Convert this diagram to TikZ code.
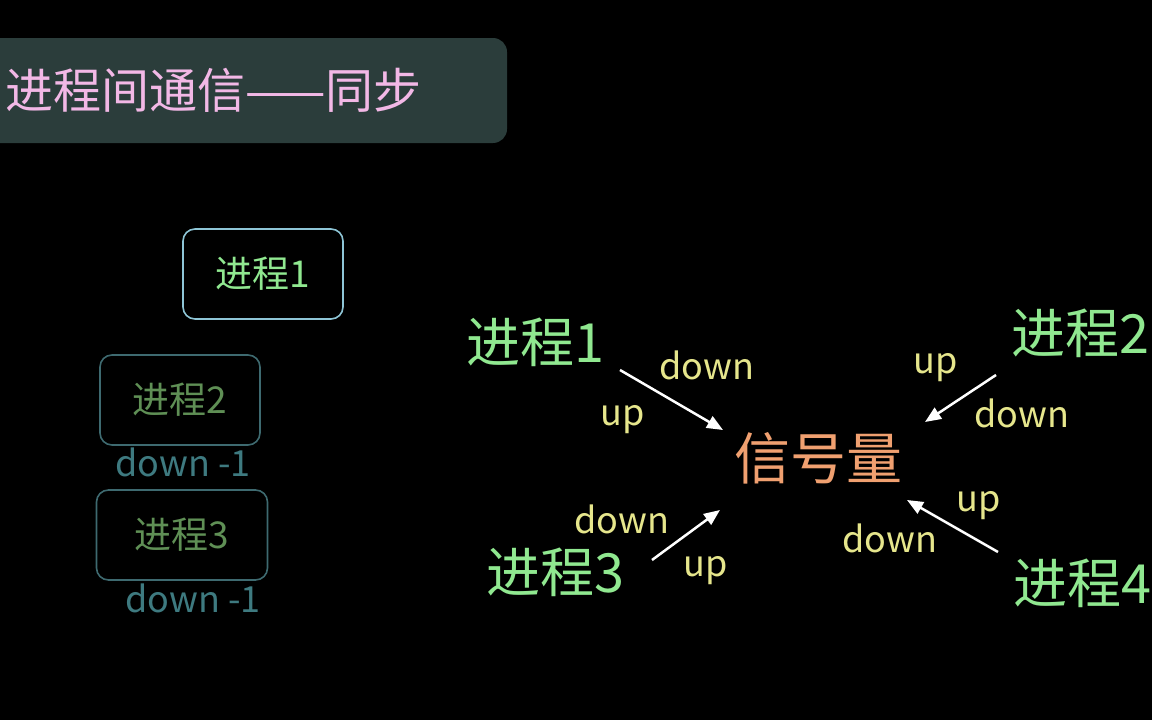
\documentclass[tikz,border=0pt]{standalone}
\usepackage{fontspec}
\setmainfont{Noto Sans CJK SC}
\usetikzlibrary{arrows.meta}
\definecolor{bgpanel}{HTML}{2B3D3B}
\definecolor{titlepink}{HTML}{F2B8E6}
\definecolor{procgreen}{HTML}{90E890}
\definecolor{dimgreen}{HTML}{5F8F55}
\definecolor{boxblue}{HTML}{8EC5D6}
\definecolor{dimblue}{HTML}{3E6A70}
\definecolor{downblue}{HTML}{3E7A80}
\definecolor{semorange}{HTML}{F0A070}
\definecolor{opyellow}{HTML}{E6E68C}
\begin{document}
\begin{tikzpicture}[x=1pt,y=-1pt,
  procbox/.style={draw,rounded corners=12pt,line width=1.6pt,minimum width=160pt,minimum height=90pt,font=\fontsize{37}{37}\selectfont},
  proclabel/.style={text=procgreen,font=\fontsize{54}{54}\selectfont},
  oplabel/.style={text=opyellow,font=\fontsize{36}{36}\selectfont},
  declabel/.style={text=downblue,font=\fontsize{36}{36}\selectfont},
  flow/.style={draw=white,line width=2.5pt,-{Triangle[length=16pt,width=13pt]}}]
\useasboundingbox (0,0) rectangle (1152,720);
\clip (0,0) rectangle (1152,720);
\fill[black] (0,0) rectangle (1152,720);
\fill[bgpanel,rounded corners=14pt] (-20,38) rectangle (507,143);
\node[anchor=west,text=titlepink,font=\fontsize{48}{48}\selectfont] (title) at (2,90) {进程间通信——同步};

% left: processes waiting on the semaphore
\node[procbox,draw=boxblue,text=procgreen] (box1) at (263,274) {进程1};
\node[procbox,draw=dimblue,text=dimgreen] (box2) at (180,400) {进程2};
\node[declabel] (dec2) at (183,462) {down -1};
\node[procbox,draw=dimblue,text=dimgreen,minimum width=171pt] (box3) at (182,535) {进程3};
\node[declabel] (dec3) at (193,598) {down -1};

% right: semaphore with four processes
\node[text=semorange,font=\fontsize{56}{56}\selectfont] (sem) at (818,458) {信号量};
\node[proclabel] (p1) at (535,342) {进程1};
\node[proclabel] (p2) at (1080,333) {进程2};
\node[proclabel] (p3) at (555,572) {进程3};
\node[proclabel] (p4) at (1082,583) {进程4};
\coordinate (s1) at (620,370); \coordinate (e1) at (723,430);
\coordinate (s2) at (996,375); \coordinate (e2) at (925,422);
\coordinate (s3) at (652,560); \coordinate (e3) at (720,510);
\coordinate (s4) at (998,552); \coordinate (e4) at (907,500);
\draw[flow] (s1) -- (e1);
\draw[flow] (s2) -- (e2);
\draw[flow] (s3) -- (e3);
\draw[flow] (s4) -- (e4);
\node[oplabel] (d1) at (707,365) {down};
\node[oplabel] (u1) at (623,420) {up};
\node[oplabel] (u2) at (936,368) {up};
\node[oplabel] (d2) at (1022,413) {down};
\node[oplabel] (d3) at (622,519) {down};
\node[oplabel] (u3) at (706,571) {up};
\node[oplabel] (u4) at (979,506) {up};
\node[oplabel] (d4) at (890,538) {down};
\end{tikzpicture}
\end{document}
